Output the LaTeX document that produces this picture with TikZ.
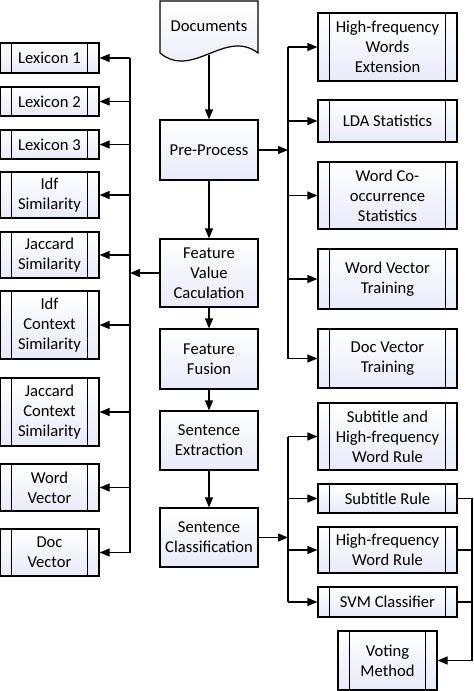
\documentclass[tikz,border=0pt]{standalone}
\usepackage{fontspec}
\setmainfont{Carlito}
\usetikzlibrary{arrows.meta, positioning, calc}
\definecolor{boxfill}{RGB}{232,234,248}

\begin{document}
\begin{tikzpicture}[x=1pt, y=-1pt, line width=1.2pt,
  every node/.style={font=\fontsize{16.6}{20}\selectfont, align=center, inner sep=2pt},
  mainbox/.style={draw, top color=white, bottom color=boxfill, minimum width=98pt},
  procbox/.style={mainbox, path picture={
      \draw ([xshift=11.5pt]path picture bounding box.north west) -- ([xshift=11.5pt]path picture bounding box.south west)
            ([xshift=-11.5pt]path picture bounding box.north east) -- ([xshift=-11.5pt]path picture bounding box.south east);}},
  leftbox/.style={procbox, minimum width=99pt},
  rightbox/.style={procbox, minimum width=139pt},
  arr/.style={-{Triangle[length=10pt,width=8pt]}}]
  \useasboundingbox (0,0) rectangle (474,691);

  % input document
  \draw[top color=white, bottom color=boxfill] (160,1) -- (160,53)
    .. controls (193,80) and (225,28) .. (258,53) -- (258,1) -- cycle;
  \node[minimum width=98pt, minimum height=53pt] (docs) at (209,27.5) {\raisebox{3.5pt}{Documents}};

  % main flow
  \node[mainbox, minimum height=60pt] (pre) at (209,150) {Pre-Process};
  \node[mainbox, minimum height=68pt] (fvc) at (209,273) {Feature\\Value\\Caculation};
  \node[mainbox, minimum height=60pt] (fus) at (209,359) {Feature\\Fusion};
  \node[mainbox, minimum height=59pt] (ext) at (209,440.5) {Sentence\\Extraction};
  \node[mainbox, minimum height=59pt] (cls) at (209,537.5) {Sentence\\Classification};

  % features
  \node[leftbox, minimum height=30pt] (lex1) at (49.5,58) {Lexicon 1};
  \node[leftbox, minimum height=29pt] (lex2) at (49.5,101.5) {Lexicon 2};
  \node[leftbox, minimum height=29pt] (lex3) at (49.5,144.5) {Lexicon 3};
  \node[leftbox, minimum height=46pt] (idf) at (49.5,195) {Idf\\Similarity};
  \node[leftbox, minimum height=46pt] (jac) at (49.5,255) {Jaccard\\Similarity};
  \node[leftbox, minimum height=68pt] (idfc) at (49.5,325) {Idf\\Context\\Similarity};
  \node[leftbox, minimum height=68pt] (jacc) at (49.5,412) {Jaccard\\Context\\Similarity};
  \node[leftbox, minimum height=47pt] (wvec) at (49.5,487.5) {Word\\Vector};
  \node[leftbox, minimum height=47pt] (dvec) at (49.5,552.5) {Doc\\Vector};

  % pre-processing steps
  \node[rightbox, minimum height=68pt] (hfwe) at (387.5,47) {High-frequency\\Words\\Extension};
  \node[rightbox, minimum height=42pt] (lda) at (387.5,121) {LDA Statistics};
  \node[rightbox, minimum height=67pt] (wco) at (387.5,195.5) {Word Co-\\occurrence\\Statistics};
  \node[rightbox, minimum height=60pt] (wvt) at (387.5,279) {Word Vector\\Training};
  \node[rightbox, minimum height=59pt] (dvt) at (387.5,358.5) {Doc Vector\\Training};

  % classifiers
  \node[rightbox, minimum height=67pt] (shf) at (387.5,436.5) {Subtitle and\\High-frequency\\Word Rule};
  \node[rightbox, minimum height=29pt] (sr) at (387.5,498.5) {Subtitle Rule};
  \node[rightbox, minimum height=46pt] (hfr) at (387.5,550) {High-frequency\\Word Rule};
  \node[rightbox, minimum height=30pt] (svm) at (387.5,602) {SVM Classifier};
  \node[procbox, minimum width=99pt, minimum height=59pt] (vote) at (387.5,660.5) {Voting\\Method};

  \coordinate (rbus) at (288,150);
  \coordinate (lbus) at (130,273);
  \coordinate (cbus) at (288,537.5);
  \coordinate (vbus) at (472,660.5);

  \draw[arr] (docs) -- (pre);
  \draw[arr] (pre) -- (fvc);
  \draw[arr] (fvc) -- (fus);
  \draw[arr] (fus) -- (ext);
  \draw[arr] (ext) -- (cls);

  \draw[arr] (pre) -- (rbus);
  \draw (rbus |- hfwe) -- (rbus |- dvt);
  \foreach \n in {hfwe,lda,wco,wvt,dvt}
    \draw[arr] (rbus |- \n) -- (\n);

  \draw[arr] (fvc) -- (lbus);
  \draw (lbus |- lex1) -- (lbus |- dvec);
  \foreach \n in {lex1,lex2,lex3,idf,jac,idfc,jacc,wvec,dvec}
    \draw[arr] (lbus |- \n) -- (\n);

  \draw[arr] (cls) -- (cbus);
  \draw (cbus |- shf) -- (cbus |- svm);
  \foreach \n in {shf,sr,hfr,svm}
    \draw[arr] (cbus |- \n) -- (\n);

  \draw (sr.east) -- (sr.east -| vbus) -- (vbus);
  \draw (hfr.east) -- (hfr.east -| vbus);
  \draw (svm.east) -- (svm.east -| vbus);
  \draw[arr] (vbus) -- (vote);
\end{tikzpicture}
\end{document}
